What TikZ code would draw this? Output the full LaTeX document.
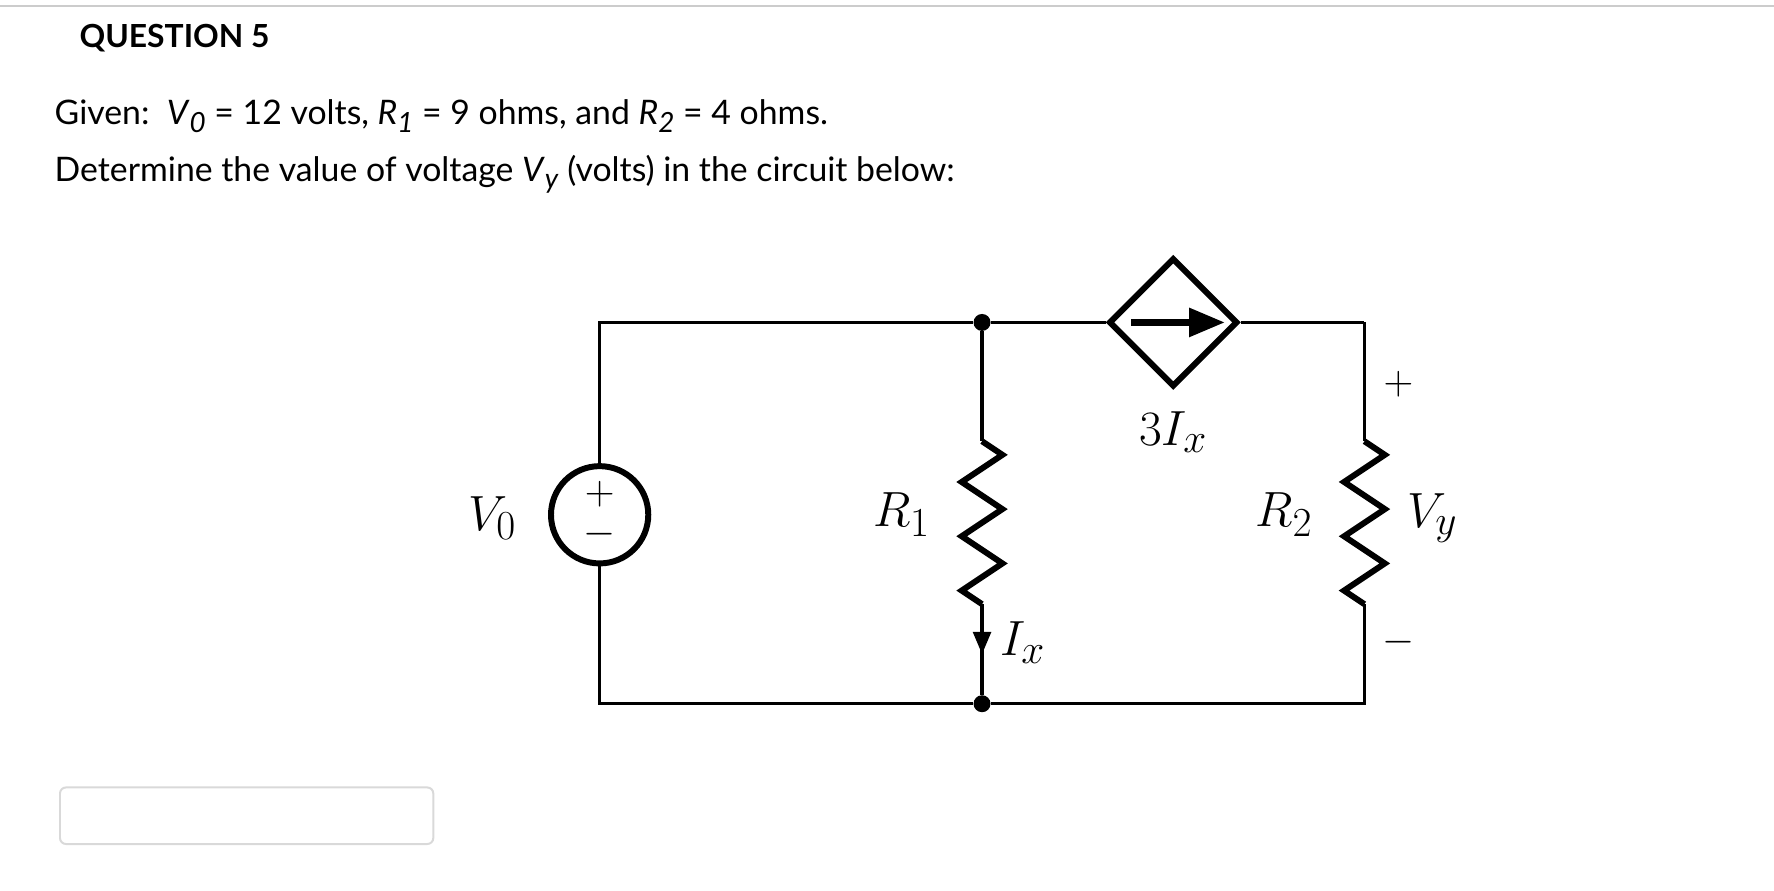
\documentclass[tikz,border=0pt]{standalone}
\usepackage{fontspec}
\setmainfont{Lato}
\usetikzlibrary{shapes.geometric, arrows}

\begin{document}
\begin{tikzpicture}[x=0.02cm, y=-0.02cm]

  \tikzstyle{wire} = [line width=1.6pt]
  \tikzstyle{element} = [line width=3pt, line join=miter]
  \tikzstyle{dot} = [circle, fill=black, inner sep=0pt, minimum size=0.3cm]
  \tikzstyle{lbl} = [inner sep=0pt, font=\fontsize{30}{32}\selectfont]
  \tikzstyle{txt} = [anchor=base west, inner sep=0pt, font=\fontsize{17}{19}\selectfont]

  \useasboundingbox (0,0) rectangle (1568,787);
  \draw [gray!40, line width=1pt] (0,5) -- (1568,5);

  % question text
  \node (title) [txt, font=\fontsize{16}{18}\selectfont\bfseries] at (70,42) {QUESTION 5};
  \node (given) [txt] at (48,110) {Given:\ \ \textit{V}\raisebox{-4pt}{\fontsize{14}{16}\selectfont\textit{0}} = 12 volts, \textit{R}\raisebox{-4pt}{\fontsize{14}{16}\selectfont\textit{1}} = 9 ohms, and \textit{R}\raisebox{-4pt}{\fontsize{14}{16}\selectfont\textit{2}} = 4 ohms.};
  \node (ask) [txt] at (48,160) {Determine the value of voltage \textit{V}\raisebox{-4pt}{\fontsize{14}{16}\selectfont\textit{y}} (volts) in the circuit below:};

  % corners and junctions
  \coordinate (tl) at (530,285);
  \coordinate (bl) at (530,622);
  \coordinate (tr) at (1206,285);
  \coordinate (br) at (1206,622);
  \node (top) [dot] at (868,285) {};
  \node (bot) [dot] at (868,622) {};

  % voltage source
  \node (src) [circle, draw, element, minimum size=1.72cm] at (530,455) {};
  \node (plus) [lbl, font=\fontsize{22}{24}\selectfont] at (530,437) {$+$};
  \node (minus) [lbl, font=\fontsize{22}{24}\selectfont] at (530,472) {$-$};
  \draw [wire] (src) -- (tl) -- (top);
  \draw [wire] (src) -- (bl) -- (bot);

  % dependent source
  \node (dep) [diamond, draw, element, minimum size=2.28cm, inner sep=0pt] at (1037,285) {};
  \draw [line width=3.2pt, -triangle 45] (1000,285) -- (1082,285);
  \draw [wire] (top) -- (dep.west);
  \draw [wire] (dep.east) -- (tr);

  % R1
  \coordinate (r1a) at (868,390);
  \coordinate (r1b) at (868,534);
  \draw [element] (r1a) -- ++(18,12) -- ++(-36,24) -- ++(36,24) -- ++(-36,24) -- ++(36,24) -- ++(-36,24) -- (r1b);
  \draw [wire] (top) -- (r1a);
  \draw [wire] (r1b) -- (bot);
  \draw [wire, -triangle 45] (r1b) -- (868,578);

  % R2
  \coordinate (r2a) at (1206,390);
  \coordinate (r2b) at (1206,534);
  \draw [element] (r2a) -- ++(18,12) -- ++(-36,24) -- ++(36,24) -- ++(-36,24) -- ++(36,24) -- ++(-36,24) -- (r2b);
  \draw [wire] (tr) -- (r2a);
  \draw [wire] (r2b) -- (br) -- (bot);

  % labels
  \node (v0) [lbl] at (435,458) {$V_0$};
  \node (r1) [lbl] at (797,455) {$R_1$};
  \node (ix) [lbl] at (904,568) {$I_x$};
  \node (gain) [lbl] at (1037,382) {$3I_x$};
  \node (r2) [lbl] at (1135,455) {$R_2$};
  \node (vy) [lbl] at (1266,458) {$V_y$};
  \node (vp) [lbl, font=\fontsize{20}{22}\selectfont] at (1236,340) {$+$};
  \node (vm) [lbl, font=\fontsize{20}{22}\selectfont] at (1236,568) {$-$};

  % answer box
  \node (answer) [draw=gray!30, rounded corners=3pt, line width=1pt, minimum width=6.6cm, minimum height=1cm] at (218,721) {};

\end{tikzpicture}
\end{document}
